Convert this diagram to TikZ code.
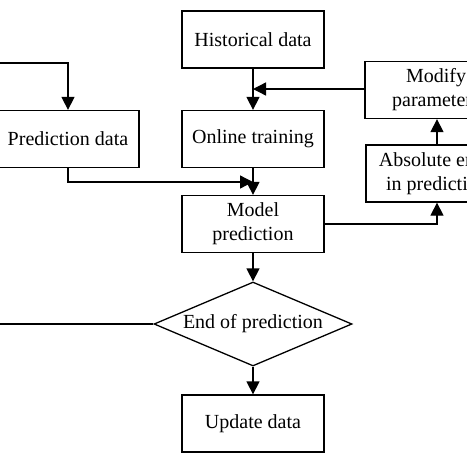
\documentclass[tikz,border=0pt]{standalone}
\usepackage{fontspec}
\setmainfont{Liberation Serif}
\usetikzlibrary{shapes.geometric,arrows.meta}
\begin{document}
\begin{tikzpicture}[x=1pt,y=-1pt,
  box/.style={draw,line width=1.3pt,minimum width=142pt,minimum height=57pt,inner sep=0pt,align=center,font=\fontsize{20}{24}\selectfont},
  dia/.style={draw,diamond,line width=1.3pt,minimum width=198pt,minimum height=84pt,aspect=2.36,inner sep=0pt,font=\fontsize{20}{24}\selectfont},
  arr/.style={line width=1.3pt,-{Triangle[length=13pt,width=13pt]}},
  ln/.style={line width=1.3pt}]
\useasboundingbox (0,0) rectangle (467,467);
\clip (0,0) rectangle (467,467);
\node[box] (hist) at (253,39.5) {Historical data};
\node[box] (online) at (253,139) {Online training};
\node[box] (pred) at (68,139) {Prediction data};
\node[box] (model) at (253,224) {Model\\prediction};
\node[dia] (end) at (253,324) {End of prediction};
\node[box] (upd) at (253,423.5) {Update data};
\node[box] (mod) at (436,90) {Modify\\parameters};
\node[box] (abs) at (437,173.5) {Absolute error\\in prediction};
\coordinate (tl) at (0,63);
\coordinate (dl) at (0,324);
\coordinate (j1) at (253,89);
\coordinate (j2) at (253,182);
\draw[arr] (tl) -| (pred.north);
\draw[arr] (hist.south) -- (online.north);
\draw[arr] (mod.west |- j1) -- (j1);
\draw[arr] (pred.south) |- (j2);
\draw[arr] (online.south) -- (model.north);
\draw[arr] (model.east) -| (abs.south);
\draw[arr] (abs.north) -- (abs.north |- mod.south);
\draw[arr] (model.south) -- (end.north);
\draw[arr] (end.south) -- (upd.north);
\draw[ln] (end.west) -- (dl);
\end{tikzpicture}
\end{document}
